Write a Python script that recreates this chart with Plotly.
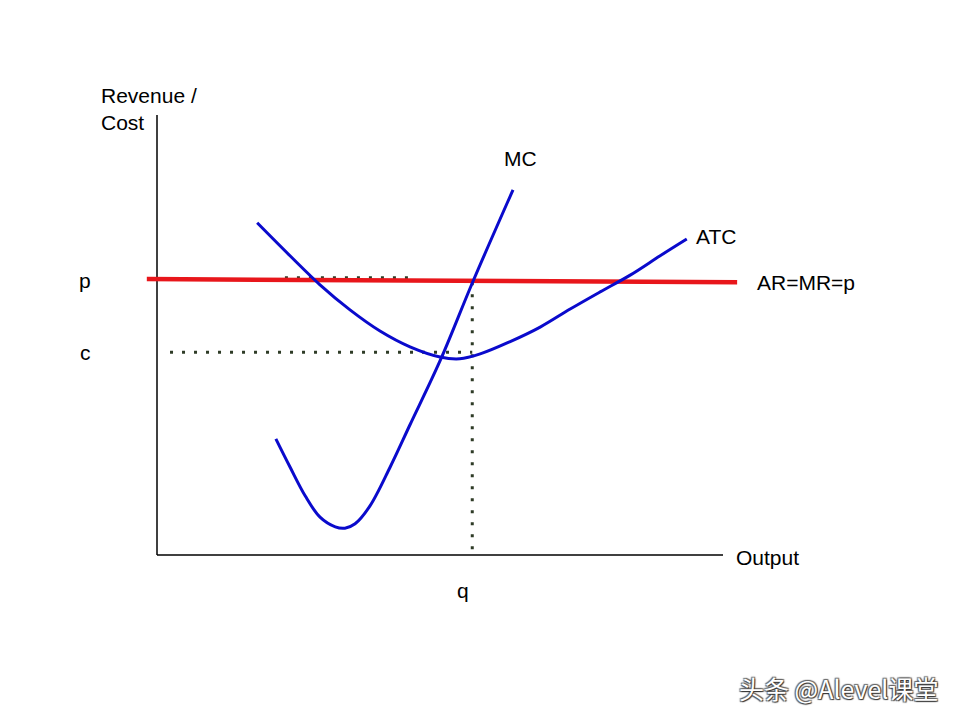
#%%
import plotly.graph_objects as go

# %%
# curve points (output on x, revenue / cost on y, both 0-10)
mc_x = [2.10, 2.35, 2.62, 2.88, 3.15, 3.32, 3.50, 3.76, 4.12, 4.47, 5.00, 5.58, 6.29]
mc_y = [2.64, 2.00, 1.34, 0.86, 0.64, 0.61, 0.71, 1.11, 2.00, 2.96, 4.41, 6.21, 8.30]

atc_x = [1.77, 2.35, 2.88, 3.41, 3.94, 4.47, 5.00, 5.35, 5.71, 6.24, 6.77, 7.30, 7.83, 8.36, 8.89, 9.36]
atc_y = [7.55, 6.80, 6.14, 5.57, 5.09, 4.73, 4.50, 4.46, 4.57, 4.85, 5.18, 5.59, 5.98, 6.36, 6.80, 7.18]

# AR=MR=p line (very slightly sloping in the original)
price_x = [-0.18, 10.25]
price_y = [6.27, 6.20]

# dotted guides
p_guide_x = [2.26, 4.47]
p_guide_y = [6.30, 6.30]
c_guide_x = [0.23, 5.57]
c_guide_y = [4.61, 4.61]
q_guide_x = [5.57, 5.57]
q_guide_y = [6.20, 0.07]

# axes
x_axis_x, x_axis_y = [0, 10], [0, 0]
y_axis_x, y_axis_y = [0, 0], [0, 10]

blue = '#0a0acc'
red = '#e8161b'
dots = '#2e3b26'
font = 'Liberation Sans, Arial, sans-serif'

# pixel position of the origin and pixels per unit (page has an 8px body margin)
origin_px, origin_py = 149, 547
x_scale, y_scale = 56.6, 44

# %%
fig = go.Figure()

fig.add_trace(go.Scatter(x=x_axis_x, y=x_axis_y, mode='lines',
                         line=dict(color='black', width=1.5)))
fig.add_trace(go.Scatter(x=y_axis_x, y=y_axis_y, mode='lines',
                         line=dict(color='black', width=1.5)))

for gx, gy in [(p_guide_x, p_guide_y), (c_guide_x, c_guide_y), (q_guide_x, q_guide_y)]:
    fig.add_trace(go.Scatter(x=gx, y=gy, mode='lines',
                             line=dict(color=dots, width=3, dash='3px,9px')))

fig.add_trace(go.Scatter(x=price_x, y=price_y, mode='lines',
                         line=dict(color=red, width=4.5)))
fig.add_trace(go.Scatter(x=atc_x, y=atc_y, mode='lines',
                         line=dict(color=blue, width=3, shape='spline', smoothing=1)))
fig.add_trace(go.Scatter(x=mc_x, y=mc_y, mode='lines',
                         line=dict(color=blue, width=3, shape='spline', smoothing=1)))

# %%
# labels
labels = [
    dict(x=-1.02, y=10.75, text='Revenue /<br>Cost', xanchor='left', yanchor='top', align='left'),
    dict(x=-1.27, y=6.25, text='p', xanchor='center', yanchor='middle'),
    dict(x=-1.27, y=4.6, text='c', xanchor='center', yanchor='middle'),
    dict(x=6.43, y=9.02, text='MC', xanchor='center', yanchor='middle'),
    dict(x=9.88, y=7.23, text='ATC', xanchor='center', yanchor='middle'),
    dict(x=10.57, y=6.2, text='AR=MR=p', xanchor='left', yanchor='middle'),
    dict(x=10.2, y=-0.05, text='Output', xanchor='left', yanchor='middle'),
    dict(x=5.4, y=-0.8, text='q', xanchor='center', yanchor='middle'),
]
for lab in labels:
    fig.add_annotation(**lab, showarrow=False, font=dict(family=font, size=21, color='black'))

# watermark
fig.add_annotation(x=0.971, y=0.056, xref='paper', yref='paper', xanchor='right', yanchor='middle',
                   text='头条 @Alevel课堂', showarrow=False,
                   font=dict(family='Noto Sans CJK SC', size=25, color='white',
                             shadow='1px 1px 1px #333, -1px -1px 1px #666, 1px -1px 1px #666, -1px 1px 1px #666'))

# %%
fig.update_layout(
    width=960, height=720,
    margin=dict(l=0, r=0, t=0, b=0),
    plot_bgcolor='white', paper_bgcolor='white',
    showlegend=False,
    xaxis=dict(range=[-origin_px / x_scale, (960 - origin_px) / x_scale], visible=False),
    yaxis=dict(range=[-(720 - origin_py) / y_scale, origin_py / y_scale], visible=False),
)

fig.write_html("out.html")
